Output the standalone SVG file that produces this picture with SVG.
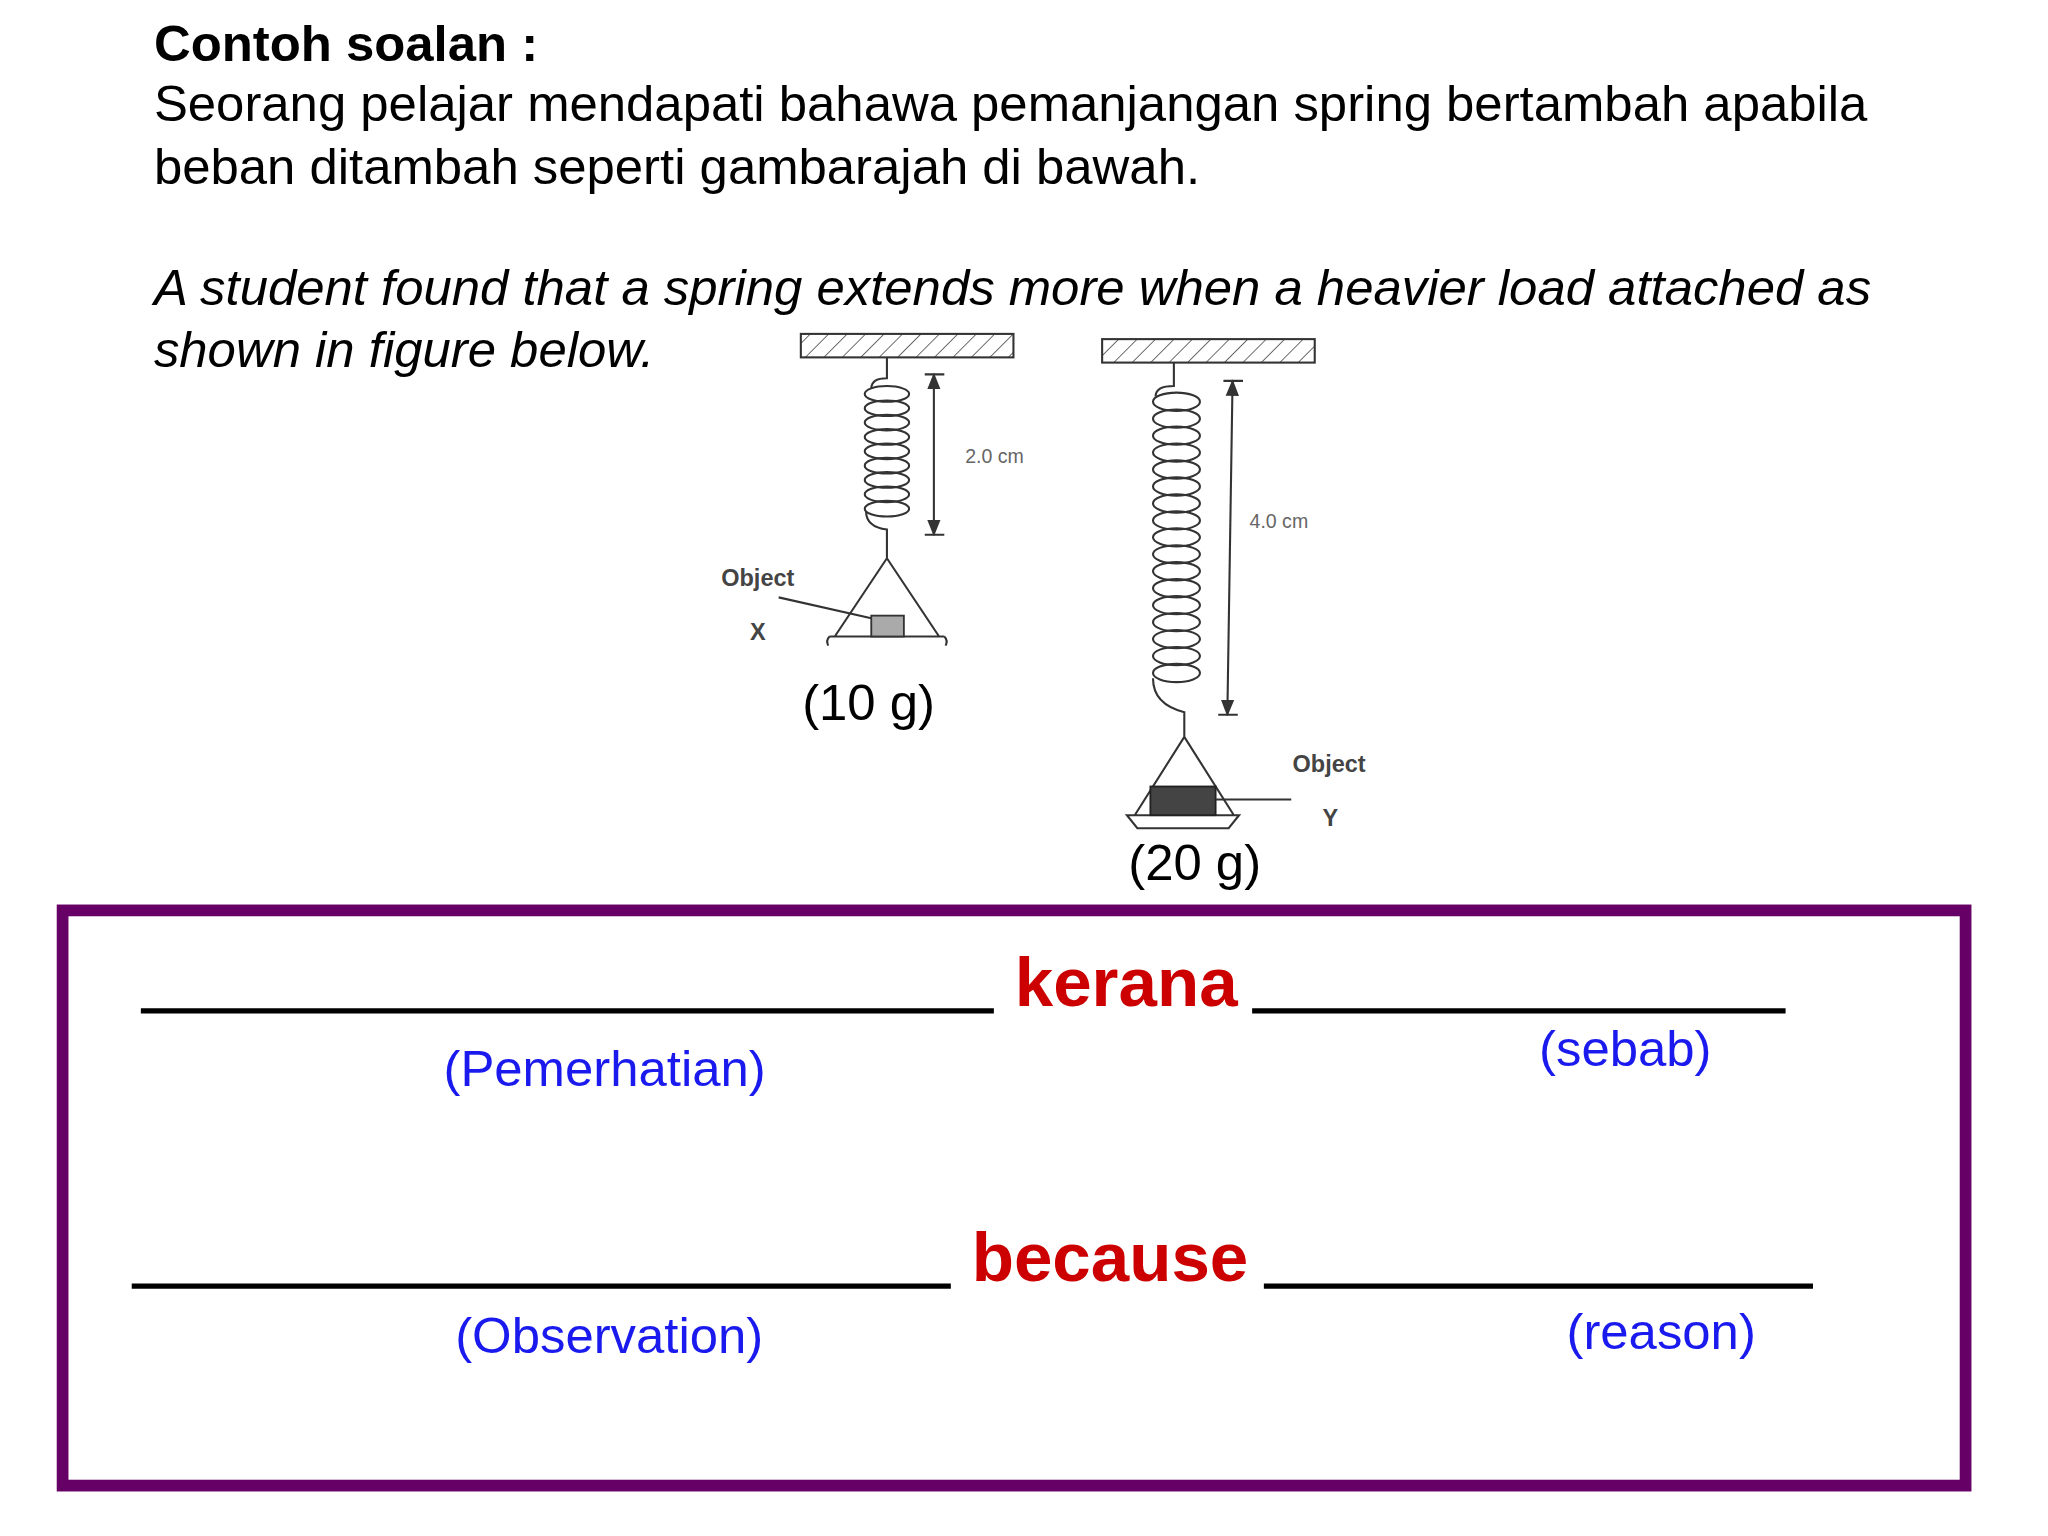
<svg xmlns="http://www.w3.org/2000/svg" width="2048" height="1536" viewBox="0 0 2048 1536">
<defs>
<pattern id="hatch" width="10" height="10" patternUnits="userSpaceOnUse" patternTransform="rotate(45)">
<line x1="0" y1="0" x2="0" y2="10" stroke="#444" stroke-width="1.2"/>
</pattern>
<marker id="ah" viewBox="0 0 10 10" refX="9" refY="5" markerWidth="8" markerHeight="8" orient="auto-start-reverse"><path d="M0,1 L10,5 L0,9 z" fill="#333"/></marker>
</defs>
<style>
.t{font-family:"Liberation Sans",Arial,sans-serif;font-size:39px;fill:#000}
.b{font-weight:bold}
.i{font-style:italic}
.sm{font-family:"Liberation Sans",Arial,sans-serif;font-size:15px;fill:#666}
.lb{font-family:"Liberation Sans",Arial,sans-serif;font-size:18px;font-weight:bold;fill:#444}
.ln{stroke:#333;stroke-width:1.6;fill:none}
.red{font-family:"Liberation Sans",Arial,sans-serif;font-size:53px;font-weight:bold;fill:#CC0000}
.blue{font-family:"Liberation Sans",Arial,sans-serif;font-size:39px;fill:#1a1aee}
.ul{stroke:#000;stroke-width:4}
</style>
<rect width="2048" height="1536" fill="#fff"/>
<g transform="scale(1.3043)">
<g id="text">
<text class="t b" x="118" y="47">Contoh soalan :</text>
<text class="t" x="118" y="93">Seorang pelajar mendapati bahawa pemanjangan spring bertambah apabila</text>
<text class="t" x="118" y="141">beban ditambah seperti gambarajah di bawah.</text>
<text class="t i" x="118" y="234">A student found that a spring extends more when a heavier load attached as</text>
<text class="t i" x="118" y="281">shown in figure below.</text>
</g>
<g id="spring1">
<rect x="614" y="256" width="163" height="18" fill="url(#hatch)" stroke="#333" stroke-width="1.6"/>
<path class="ln" d="M680,274 V290 Q668,290 668,298"/>
<g class="ln">
<ellipse cx="680" cy="302" rx="17" ry="6"/><ellipse cx="680" cy="313" rx="17" ry="6"/><ellipse cx="680" cy="324" rx="17" ry="6"/><ellipse cx="680" cy="335" rx="17" ry="6"/><ellipse cx="680" cy="346" rx="17" ry="6"/><ellipse cx="680" cy="357" rx="17" ry="6"/><ellipse cx="680" cy="368" rx="17" ry="6"/><ellipse cx="680" cy="379" rx="17" ry="6"/><ellipse cx="680" cy="390" rx="17" ry="6"/>
</g>
<path class="ln" d="M664,392 Q664,404 680,406 V428 M680,428 L640,488 M680,428 L720,488 M636,488 H724 M636,488 q-3,3 -1,7 M724,488 q3,3 1,7"/>
<rect x="668" y="472" width="25" height="16" fill="#aaa" stroke="#333" stroke-width="1.4"/>
<line class="ln" x1="716" y1="287" x2="716" y2="410" marker-start="url(#ah)" marker-end="url(#ah)"/>
<path class="ln" d="M709,287 H724 M709,410 H724"/>
<text class="sm" x="740" y="355">2.0 cm</text>
<text class="lb" x="553" y="449">Object</text>
<text class="lb" x="575" y="491" font-weight="normal">X</text>
<line class="ln" x1="597" y1="458" x2="668" y2="474" stroke-width="1.2"/>
<text class="t" x="615" y="552">(10 g)</text>
</g>
<g id="spring2">
<rect x="845" y="260" width="163" height="18" fill="url(#hatch)" stroke="#333" stroke-width="1.6"/>
<path class="ln" d="M900,278 V296 Q886,296 886,304"/>
<g class="ln">
<ellipse cx="902" cy="308" rx="18" ry="7"/><ellipse cx="902" cy="321" rx="18" ry="7"/><ellipse cx="902" cy="334" rx="18" ry="7"/><ellipse cx="902" cy="347" rx="18" ry="7"/><ellipse cx="902" cy="360" rx="18" ry="7"/><ellipse cx="902" cy="373" rx="18" ry="7"/><ellipse cx="902" cy="386" rx="18" ry="7"/><ellipse cx="902" cy="399" rx="18" ry="7"/><ellipse cx="902" cy="412" rx="18" ry="7"/><ellipse cx="902" cy="425" rx="18" ry="7"/><ellipse cx="902" cy="438" rx="18" ry="7"/><ellipse cx="902" cy="451" rx="18" ry="7"/><ellipse cx="902" cy="464" rx="18" ry="7"/><ellipse cx="902" cy="477" rx="18" ry="7"/><ellipse cx="902" cy="490" rx="18" ry="7"/><ellipse cx="902" cy="503" rx="18" ry="7"/><ellipse cx="902" cy="516" rx="18" ry="7"/>
</g>
<path class="ln" d="M884,520 Q884,540 908,546 V565 M908,565 L870,625 M908,565 L946,625 M864,625 H950 L942,635 H872 Z"/>
<rect x="882" y="603" width="50" height="22" fill="#444" stroke="#222" stroke-width="1.4"/>
<line class="ln" x1="945" y1="292" x2="941" y2="548" marker-start="url(#ah)" marker-end="url(#ah)"/>
<path class="ln" d="M938,292 H953 M934,548 H949"/>
<text class="sm" x="958" y="405">4.0 cm</text>
<text class="lb" x="991" y="592">Object</text>
<text class="lb" x="1014" y="633" font-weight="normal">Y</text>
<line class="ln" x1="932" y1="613" x2="990" y2="613" stroke-width="1.2"/>
<text class="t" x="865" y="675">(20 g)</text>
</g>
<g id="answer-box">
<rect x="48" y="698" width="1459" height="441" fill="#fff" stroke="#660066" stroke-width="9"/>
<line class="ul" x1="108" y1="775" x2="762" y2="775"/>
<text class="red" x="778" y="771">kerana</text>
<line class="ul" x1="960" y1="775" x2="1369" y2="775"/>
<text class="blue" x="340" y="833">(Pemerhatian)</text>
<text class="blue" x="1180" y="817">(sebab)</text>
<line class="ul" x1="101" y1="986" x2="729" y2="986"/>
<text class="red" x="745" y="982">because</text>
<line class="ul" x1="969" y1="986" x2="1390" y2="986"/>
<text class="blue" x="349" y="1037">(Observation)</text>
<text class="blue" x="1201" y="1034">(reason)</text>
</g>
</g>
</svg>
